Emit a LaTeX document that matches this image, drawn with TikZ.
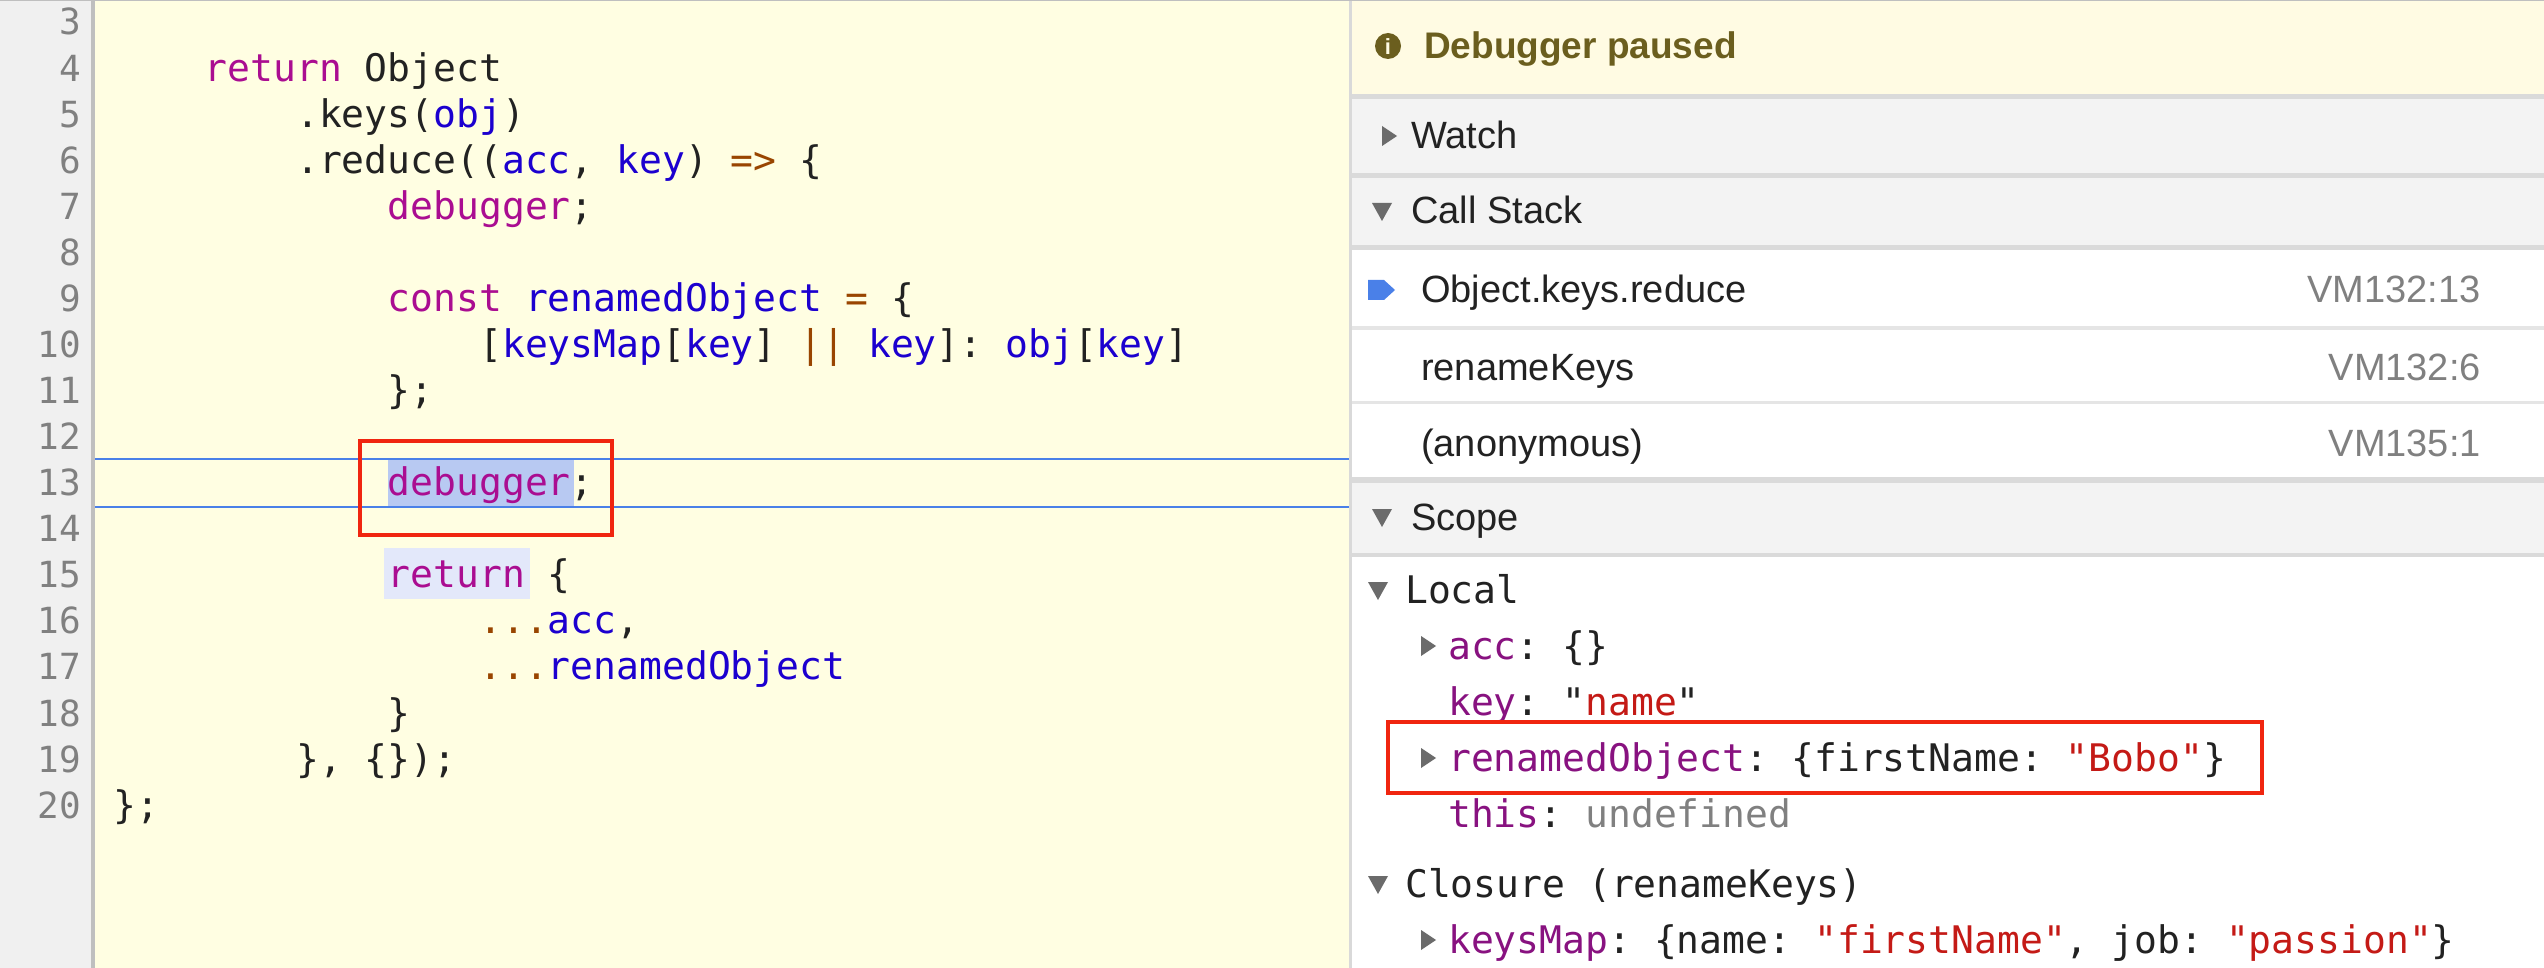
\documentclass[tikz,border=0pt]{standalone}
\usepackage{fontspec}
\setmonofont{DejaVu Sans Mono}
\setsansfont{Liberation Sans}
\definecolor{kw}{HTML}{AA0D91}
\definecolor{nm}{HTML}{1C00CF}
\definecolor{op}{HTML}{994500}
\definecolor{pr}{HTML}{881280}
\definecolor{st}{HTML}{C41A16}
\definecolor{tx}{HTML}{222222}
\definecolor{gr}{HTML}{808080}
\definecolor{gutter}{HTML}{F0F0F0}
\definecolor{codebg}{HTML}{FFFEE2}
\definecolor{hdrbg}{HTML}{FFFBE3}
\definecolor{rowbg}{HTML}{F3F3F3}
\definecolor{sep}{HTML}{DADADA}
\definecolor{olive}{HTML}{6B5E1E}
\definecolor{hl}{HTML}{B8C9F2}
\definecolor{hl2}{HTML}{E3E8FA}
\definecolor{bline}{HTML}{4A80E8}
\definecolor{redbox}{HTML}{F0250F}
\newcommand{\kw}[1]{\textcolor{kw}{#1}}
\newcommand{\nm}[1]{\textcolor{nm}{#1}}
\newcommand{\opc}[1]{\textcolor{op}{#1}}
\newcommand{\pr}[1]{\textcolor{pr}{#1}}
\newcommand{\str}[1]{\textcolor{st}{#1}}
\tikzset{
 code/.style={anchor=base west,inner sep=0pt,font=\ttfamily\fontsize{38}{40}\selectfont,text=tx},
 lnum/.style={anchor=base east,inner sep=0pt,font=\ttfamily\fontsize{36}{40}\selectfont,text=gr},
 sans/.style={anchor=base west,inner sep=0pt,font=\sffamily\fontsize{38}{40}\selectfont,text=tx},
 vm/.style={anchor=base east,inner sep=0pt,font=\sffamily\fontsize{38}{40}\selectfont,text=gr},
 tri/.style={fill=black!58,draw=none},
 redrect/.style={draw=redbox,line width=3.5pt}
}
\newcommand{\codeln}[4]{\node[code] (#1) at ({113+#3*22.88},{35+(#2-3)*46.07}) {#4};}
\newcommand{\rtri}[3]{\fill[tri] (#2,#3-10) -- (#2+15,#3) -- (#2,#3+10) -- cycle;}
\newcommand{\dtri}[3]{\fill[tri] (#2,#3-8) -- (#2+20,#3-8) -- (#2+10,#3+10) -- cycle;}
\begin{document}
\begin{tikzpicture}[x=1pt,y=-1pt]
\useasboundingbox (0,0) rectangle (2544,968);
% backgrounds
\fill[gutter] (0,0) rectangle (93,968);
\fill[black!25] (91,0) rectangle (95,968);
\fill[codebg] (95,0) rectangle (1349,968);
\fill[black!15] (1349,0) rectangle (1352,968);
\draw[black!25,line width=1pt] (0,0.5) -- (2544,0.5);
% line numbers
\foreach \k in {3,...,20} {\node[lnum] (n\k) at (81,{35+(\k-3)*46.07}) {\k};}
% highlights
\fill[hl] (388,460) rectangle (574,506);
\fill[hl2] (384,548) rectangle (530,599);
\draw[bline,line width=1.5pt] (95,459) -- (1349,459);
\draw[bline,line width=1.5pt] (95,507) -- (1349,507);
% code
\codeln{c4}{4}{4}{\kw{return} Object}
\codeln{c5}{5}{8}{.keys(\nm{obj})}
\codeln{c6}{6}{8}{.reduce((\nm{acc}, \nm{key}) \opc{=>} \{}
\codeln{c7}{7}{12}{\kw{debugger};}
\codeln{c9}{9}{12}{\kw{const} \nm{renamedObject} \opc{=} \{}
\codeln{c10}{10}{16}{[\nm{keysMap}[\nm{key}] \opc{||} \nm{key}]: \nm{obj}[\nm{key}]}
\codeln{c11}{11}{12}{\};}
\codeln{c13}{13}{12}{\kw{debugger};}
\codeln{c15}{15}{12}{\kw{return} \{}
\codeln{c16}{16}{16}{\opc{...}\nm{acc},}
\codeln{c17}{17}{16}{\opc{...}\nm{renamedObject}}
\codeln{c18}{18}{12}{\}}
\codeln{c19}{19}{8}{\}, \{\});}
\codeln{c20}{20}{0}{\};}
\draw[redrect] (360,441) rectangle (612,535);
% right panel
\fill[hdrbg] (1352,1) rectangle (2544,94);
\fill[sep] (1352,94) rectangle (2544,99);
\fill[rowbg] (1352,99) rectangle (2544,173);
\fill[sep] (1352,173) rectangle (2544,178);
\fill[rowbg] (1352,178) rectangle (2544,245);
\fill[sep] (1352,245) rectangle (2544,250);
\fill[white] (1352,250) rectangle (2544,968);
\fill[sep!70] (1352,326) rectangle (2544,330);
\fill[sep!70] (1352,401) rectangle (2544,404);
\fill[sep] (1352,477) rectangle (2544,483);
\fill[rowbg] (1352,483) rectangle (2544,553);
\fill[sep] (1352,553) rectangle (2544,557);
% header
\fill[olive] (1388,46) circle (13);
\node[inner sep=0pt,text=hdrbg,font=\sffamily\bfseries\fontsize{22}{22}\selectfont] (info) at (1388,47) {i};
\node[sans,text=olive,font=\sffamily\bfseries\fontsize{37}{40}\selectfont] (hdr) at (1424,59) {Debugger paused};
% sections
\rtri{w}{1382}{136}
\node[sans] (watch) at (1411,149) {Watch};
\dtri{cs}{1372}{211}
\node[sans] (callstack) at (1411,224) {Call Stack};
\fill[bline] (1368,280) -- (1384,280) -- (1395,290) -- (1384,300) -- (1368,300) -- cycle;
\node[sans] (f1) at (1421,303) {Object.keys.reduce};
\node[vm] (v1) at (2481,303) {VM132:13};
\node[sans] (f2) at (1421,381) {renameKeys};
\node[vm] (v2) at (2481,381) {VM132:6};
\node[sans] (f3) at (1421,456) {(anonymous)};
\node[vm] (v3) at (2481,456) {VM135:1};
\dtri{sc}{1372}{517}
\node[sans] (scope) at (1411,530) {Scope};
% scope tree
\dtri{lo}{1368}{590}
\node[code] (local) at (1405,603) {Local};
\rtri{a}{1421}{646}
\node[code] (acc) at (1448,659) {\pr{acc}: \{\}};
\node[code] (key) at (1448,715) {\pr{key}: "\str{name}"};
\rtri{r}{1421}{758}
\node[code] (ren) at (1448,771) {\pr{renamedObject}: \{firstName: \str{"Bobo"}\}};
\draw[redrect] (1388,722) rectangle (2262,793);
\node[code] (this) at (1448,827) {\pr{this}: \textcolor{gr}{undefined}};
\dtri{cl}{1368}{884}
\node[code] (closure) at (1405,897) {Closure (renameKeys)};
\rtri{k}{1421}{940}
\node[code] (km) at (1448,953) {\pr{keysMap}: \{name: \str{"firstName"}, job: \str{"passion"}\}};
\end{tikzpicture}
\end{document}
